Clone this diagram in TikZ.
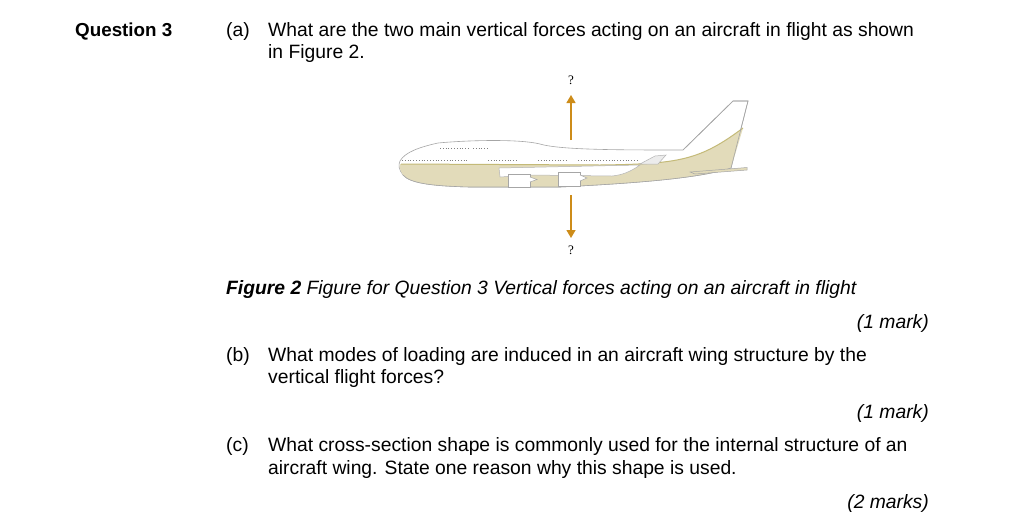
\documentclass[tikz,border=0pt]{standalone}
\usepackage{fontspec}
\setmainfont{Liberation Sans}
\newfontfamily\qmfont{Liberation Serif}
\usetikzlibrary{arrows.meta}
\begin{document}
\begin{tikzpicture}[x=1pt,y=-1pt,
  txt/.style={anchor=base west,inner sep=0pt,font=\fontsize{19.3}{22}\selectfont},
  mk/.style={anchor=base east,inner sep=0pt,font=\fontsize{19.3}{22}\selectfont\itshape},
  force/.style={draw=arrowc,line width=1.3pt,-{Triangle[length=8pt,width=9pt]}},
  qm/.style={font=\fontsize{13}{14}\selectfont\qmfont,inner sep=0pt}]
\definecolor{arrowc}{RGB}{205,140,25}
\useasboundingbox (0,0) rectangle (1024,523);
\fill[white] (0,0) rectangle (1024,523);
\node[txt,font=\fontsize{18.8}{22}\selectfont\bfseries] (q) at (75,36) {Question 3};
\node[txt] (a) at (226,36) {(a)};
\node[txt] (a1) at (268,36) {What are the two main vertical forces acting on an aircraft in flight as shown};
\node[txt] (a2) at (268,58) {in Figure 2.};
\node[txt,font=\fontsize{19.3}{22}\selectfont\itshape] (cap) at (226,294) {\textbf{Figure 2} Figure for Question 3 Vertical forces acting on an aircraft in flight};
\node[mk] (m1) at (929,328) {(1 mark)};
\node[txt] (b) at (226,361) {(b)};
\node[txt] (b1) at (268,361) {What modes of loading are induced in an aircraft wing structure by the};
\node[txt] (b2) at (268,383) {vertical flight forces?};
\node[mk] (m2) at (929,418) {(1 mark)};
\node[txt] (c) at (226,451) {(c)};
\node[txt] (c1) at (268,451) {What cross-section shape is commonly used for the internal structure of an};
\node[txt] (c2) at (268,474) {aircraft wing. State one reason why this shape is used.};
\node[mk] (m3) at (929,508) {(2 marks)};
% aircraft
\definecolor{tan}{RGB}{226,219,186}
\definecolor{tanline}{RGB}{196,186,120}
\filldraw[fill=white,draw=gray!70,line width=0.6pt]
 (400,161) .. controls (405,152) and (420,147) .. (438,143)
 .. controls (470,140) and (520,139) .. (540,144)
 .. controls (560,150) and (620,150) .. (683,150)
 -- (733,101) -- (748,101) -- (731,168)
 .. controls (700,178) and (640,183) .. (560,187)
 -- (470,187) .. controls (430,186) and (410,183) .. (403,175)
 .. controls (399,170) and (398,165) .. (400,161) -- cycle;
\fill[tan] (400,164) -- (600,165) .. controls (680,164) and (700,160) .. (743,128)
 -- (731,168) .. controls (700,178) and (640,183) .. (560,187)
 -- (470,187) .. controls (430,186) and (410,183) .. (403,175) .. controls (400,170) and (399,167) .. (400,164) -- cycle;
\draw[tanline,line width=1pt] (401,164) -- (600,165) .. controls (680,164) and (700,160) .. (743,128);
\draw[gray!70,line width=0.6pt] (683,150) -- (733,101) -- (748,101) -- (731,168)
 .. controls (700,178) and (640,183) .. (560,187) -- (470,187) .. controls (430,186) and (410,183) .. (403,175);
\foreach \x/\l in {440/30,473/15} \draw[gray,dotted,line width=0.8pt] (\x,148) -- ++(\l,0);
\foreach \x/\l in {402/65,488/30,538/30,578/60} \draw[gray,dotted,line width=0.8pt] (\x,160) -- ++(\l,0);
\filldraw[fill=gray!15,draw=gray!60,line width=0.5pt] (640,164) -- (655,156) -- (666,155) -- (658,164) -- cycle;
\filldraw[fill=white,draw=gray!60,line width=0.5pt] (499,168) -- (640,165) .. controls (630,172) and (622,175) .. (612,176) -- (530,175) -- (500,177) -- cycle;
\filldraw[fill=white,draw=gray!70,line width=0.5pt] (508,174) rectangle (530,187);
\filldraw[fill=white,draw=gray!70,line width=0.5pt] (530,177) -- (537,179.5) -- (530,182);
\filldraw[fill=white,draw=gray!70,line width=0.5pt] (558,172) rectangle (580,186);
\filldraw[fill=white,draw=gray!70,line width=0.5pt] (580,175) -- (587,178) -- (580,181);
\filldraw[fill=tan,draw=gray!70,line width=0.5pt] (690,172) -- (747,167.5) -- (747,170) -- (695,174) -- cycle;
\coordinate (up0) at (571,140);
\coordinate (up1) at (571,95);
\coordinate (dn0) at (571,195);
\coordinate (dn1) at (571,238);
\draw[force] (up0) -- (up1);
\draw[force] (dn0) -- (dn1);
\node[qm] (qu) at (571,80) {?};
\node[qm] (qd) at (571,250) {?};
\end{tikzpicture}
\end{document}
